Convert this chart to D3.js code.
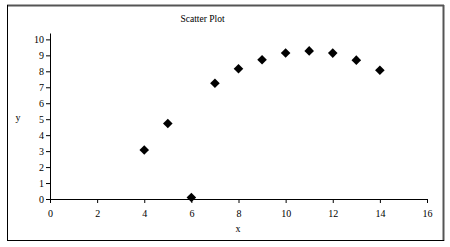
<!DOCTYPE html>
<meta charset="utf-8">
<script src="https://d3js.org/d3.v7.min.js"></script>
<style>
  body { margin: 0; background: #fff; }
</style>
<div id="chart"></div>
<script>
// data
var xValues = [4, 5, 6, 7, 8, 9, 10, 11, 12, 13, 14];
var yValues = [3.07, 4.73, 0.09, 7.25, 8.16, 8.72, 9.15, 9.28, 9.14, 8.7, 8.07];
var xTicks = [0, 2, 4, 6, 8, 10, 12, 14, 16];
var yTicks = [0, 1, 2, 3, 4, 5, 6, 7, 8, 9, 10];

var width = 450, height = 247;
var serif = "'Liberation Serif', 'Times New Roman', 'DejaVu Serif', serif";

var svg = d3.select("#chart")
  .append("svg")
    .attr("width", width)
    .attr("height", height);

// frame: dark top/right edges, black left/bottom
svg.append("line").attr("x1", 7).attr("x2", 444).attr("y1", 5.5).attr("y2", 5.5)
  .attr("stroke", "#555").attr("stroke-width", 2);
svg.append("line").attr("x1", 443.5).attr("x2", 443.5).attr("y1", 5).attr("y2", 241)
  .attr("stroke", "#555").attr("stroke-width", 2);
svg.append("line").attr("x1", 7.5).attr("x2", 7.5).attr("y1", 5).attr("y2", 241)
  .attr("stroke", "#000").attr("stroke-width", 1);
svg.append("line").attr("x1", 7).attr("x2", 444).attr("y1", 240.5).attr("y2", 240.5)
  .attr("stroke", "#000").attr("stroke-width", 1);

// scales
var x = d3.scaleLinear().domain([0, 16]).range([50, 427]);
var y = d3.scaleLinear().domain([0, 10.4]).range([199, 33]);

// axes
var xAxis = svg.append("g")
  .attr("transform", "translate(0," + y(0) + ")")
  .call(d3.axisBottom(x).tickValues(xTicks).tickSize(4).tickPadding(7).tickSizeOuter(0));

var yAxis = svg.append("g")
  .attr("transform", "translate(" + x(0) + ",0)")
  .call(d3.axisLeft(y).tickValues(yTicks).tickSize(4).tickPadding(2).tickSizeOuter(0));

[xAxis, yAxis].forEach(function(g) {
  g.attr("font-family", serif).attr("font-size", 10);
  g.selectAll("text").style("font-family", serif).style("font-size", "10px").attr("fill", "#000");
  g.selectAll("line, path").attr("stroke", "#000");
});

// points as diamonds
svg.selectAll("path.pt")
  .data(xValues.map(function(d, i) { return {x: d, y: yValues[i]}; }))
  .enter()
  .append("path")
    .attr("class", "pt")
    .attr("d", d3.symbol().type(d3.symbolSquare).size(46))
    .attr("transform", function(d) {
      return "translate(" + x(d.x) + "," + y(d.y) + ")rotate(45)";
    })
    .attr("fill", "#000");

// title and axis labels
svg.append("text")
  .attr("x", 202.5).attr("y", 22)
  .attr("text-anchor", "middle")
  .style("font-family", serif)
  .style("font-size", "9.5px")
  .text("Scatter Plot");

svg.append("text")
  .attr("x", 238).attr("y", 232)
  .attr("text-anchor", "middle")
  .style("font-family", serif)
  .style("font-size", "10px")
  .text("x");

svg.append("text")
  .attr("x", 18).attr("y", 121)
  .attr("text-anchor", "middle")
  .style("font-family", serif)
  .style("font-size", "10px")
  .text("y");
</script>
